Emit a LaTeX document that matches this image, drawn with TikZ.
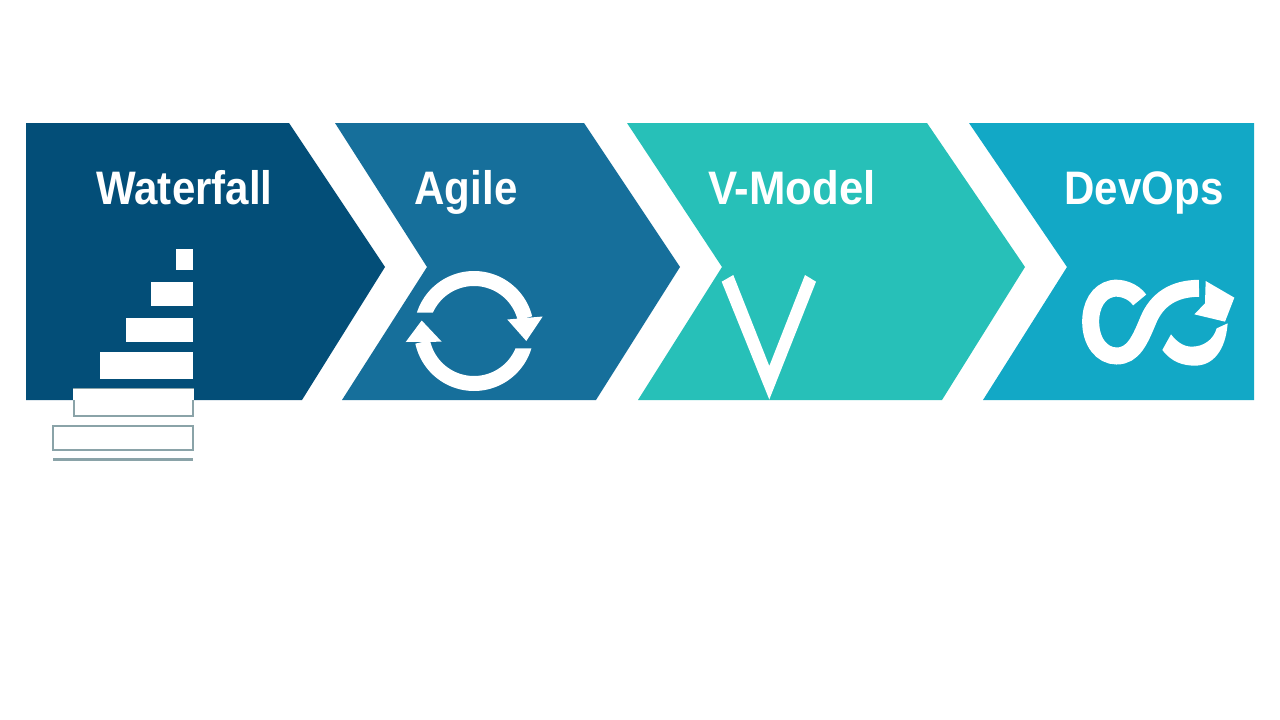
\documentclass[tikz,border=0pt]{standalone}
\usepackage{fontspec}
\setmainfont{Liberation Sans}
\definecolor{navy}{HTML}{034E78}
\definecolor{steel}{HTML}{166F9B}
\definecolor{teal}{HTML}{27C0B8}
\definecolor{cyanblue}{HTML}{12A8C6}
\definecolor{stepedge}{HTML}{8AA3A8}
\tikzset{
  title/.style={text=white,inner sep=0pt,anchor=base,xscale=.895,font=\fontsize{47}{47}\selectfont\bfseries},
  stair/.style={fill=white,draw=none},
  stairline/.style={fill=white,draw=stepedge,line width=1.5pt},
  iconstroke/.style={draw=white,line cap=butt,fill=none},
  iconfill/.style={fill=white,draw=none},
}
\begin{document}
\begin{tikzpicture}[x=1pt,y=-1pt]
\useasboundingbox (0,0) rectangle (1280,720);
\fill[white] (0,0) rectangle (1280,720);
% chevrons
\fill[navy] (26,123) -- (289,123) -- (385,267) -- (302,400) -- (26,400) -- cycle;
\fill[steel] (335,123) -- (584,123) -- (680,267) -- (596,400) -- (342,400) -- (427,267) -- cycle;
\fill[teal] (627,123) -- (927,123) -- (1025,267) -- (942,400) -- (638,400) -- (722,267) -- cycle;
\fill[cyanblue] (969,123) -- (1254,123) -- (1254,400) -- (983,400) -- (1067,267) -- cycle;
% titles
\node[title] (waterfall) at (184.5,204) {Waterfall};
\node[title] (agile) at (466,204) {Agile};
\node[title,xscale=1.04] (vmodel) at (792,204) {V-Model};
\node[title] (devops) at (1144,204) {DevOps};
% stairs
\draw[stairline] (74,389) rectangle (193,416);
\fill[stair] (73.3,389) rectangle (193.7,400);
\fill[stair] (176,249) rectangle (193,270);
\fill[stair] (151,282) rectangle (193,306);
\fill[stair] (126,318) rectangle (193,342);
\fill[stair] (100,352) rectangle (193,379);
\draw[stairline] (53,426) rectangle (193,450);
\draw[stepedge,line width=2.2pt] (53,459.5) -- (193,459.5);
% agile cycle
\begin{scope}
\clip (400,270) -- (560,270) -- (560,330) -- (474,330) -- (474,312.5) -- (400,312.5) -- cycle;
\draw[iconstroke,line width=15pt] plot[domain=172:14,samples=60] ({474+52.5*cos(\x)},{331-52.5*sin(\x)});
\end{scope}
\fill[iconfill] (507.3,319.5) -- (542.7,316.5) -- (526.3,341) -- cycle;
\begin{scope}
\clip (400,330) -- (474,330) -- (474,348.3) -- (560,348.3) -- (560,400) -- (400,400) -- cycle;
\draw[iconstroke,line width=15pt] plot[domain=-5:-168,samples=60] ({474+52.5*cos(\x)},{331-52.5*sin(\x)});
\end{scope}
\fill[iconfill] (421.7,320.5) -- (441.7,341.7) -- (405.7,342) -- cycle;
% V
\fill[iconfill] (721.7,281.7) -- (733.3,275) -- (769.3,366) -- (805,275) -- (816,281.7) -- (769.3,399.5) -- cycle;
% devops loop
\begin{scope}[shift={(1070,270)},x=.3333pt,y=-.3333pt]
\draw[iconstroke,line width=17pt] (209,90) .. controls (190,62) and (150,50) .. (125,56)
  .. controls (85,65) and (62,105) .. (62,155)
  .. controls (62,215) and (95,258) .. (140,258)
  .. controls (190,258) and (210,210) .. (235,150)
  .. controls (260,90) and (310,55) .. (387,55);
\end{scope}
\begin{scope}[shift={(1155,275)},x=.3333pt,y=-.3333pt]
\fill[iconfill] (22,225) .. controls (50,262) and (85,272) .. (120,272)
  .. controls (175,272) and (212,225) .. (218,145) -- (185,160)
  .. controls (175,195) and (145,215) .. (110,215)
  .. controls (85,215) and (65,200) .. (48,178) -- cycle;
\fill[iconfill] (152,18) -- (238,68) -- (210,140) -- (118,118) -- (150,85) -- cycle;
\end{scope}
\end{tikzpicture}
\end{document}
